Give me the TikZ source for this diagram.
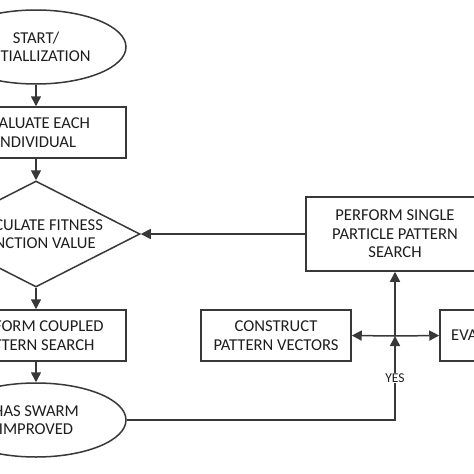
\documentclass[tikz,border=0pt]{standalone}
\usepackage{fontspec}
\setmainfont{Carlito}
\usetikzlibrary{shapes.geometric,arrows.meta}
\definecolor{ln}{HTML}{383838}
\definecolor{tx}{HTML}{1E1E1E}
\begin{document}
\begin{tikzpicture}[x=1pt,y=-1pt,
  base/.style={draw=ln,line width=1.5pt,inner sep=0pt,text=tx,align=center,
    font=\fontsize{16.6}{18.5}\selectfont},
  oval/.style={base,ellipse,minimum width=180pt,minimum height=74pt},
  box/.style={base,rectangle},
  lbl/.style={text=tx,align=center,inner sep=0pt,font=\fontsize{16.6}{18.5}\selectfont},
  conn/.style={draw=ln,line width=1.5pt},
  arr/.style={conn,-{Triangle[length=10pt,width=10pt]}}]
\useasboundingbox (0,0) rectangle (474,474);
\clip (0,0) rectangle (474,474);
\fill[white] (0,0) rectangle (474,474);
\node[oval] (start) at (36,47) {START/\\INITIALLIZATION};
\node[box,minimum width=180pt,minimum height=51pt] (eval) at (36,132.5) {EVALUATE EACH\\INDIVIDUAL};
\node[base,diamond,minimum width=208pt,minimum height=106pt] (calc) at (36,234) {};
\node[lbl] (calct) at (calc.center) {CALCULATE FITNESS\\FUNCTION VALUE};
\node[box,minimum width=180pt,minimum height=51pt] (coupled) at (36,335.5) {PERFORM COUPLED\\PATTERN SEARCH};
\node[oval] (swarm) at (36,420) {HAS SWARM\\IMPROVED};
\node[box,minimum width=178pt,minimum height=74pt] (perform) at (395,234) {PERFORM SINGLE\\PARTICLE PATTERN\\SEARCH};
\node[box,minimum width=150pt,minimum height=51pt] (construct) at (276,335.5) {CONSTRUCT\\PATTERN VECTORS};
\node[box,minimum width=150pt,minimum height=51pt] (evabox) at (515,335.5) {};
\node[lbl,anchor=west] (evat) at (451,335.5) {EVALUATE};
\coordinate (junc) at (395,336);
\coordinate (corner) at (395,420);
\draw[arr] (start) -- (eval);
\draw[arr] (eval) -- (calc.north);
\draw[arr] (calc.south) -- (coupled);
\draw[arr] (coupled) -- (swarm);
\draw[arr] (perform.west) -- (calc.east);
\draw[arr] (swarm.east) -- (corner) -- (junc);
\draw[arr] (junc) -- (perform.south);
\draw[arr] (junc) -- (construct.east);
\draw[arr] (junc) -- (evabox.west);
\node[fill=white,inner sep=1pt,text=tx,font=\fontsize{13.5}{14}\selectfont] (yes) at (395,378) {YES};
\end{tikzpicture}
\end{document}
